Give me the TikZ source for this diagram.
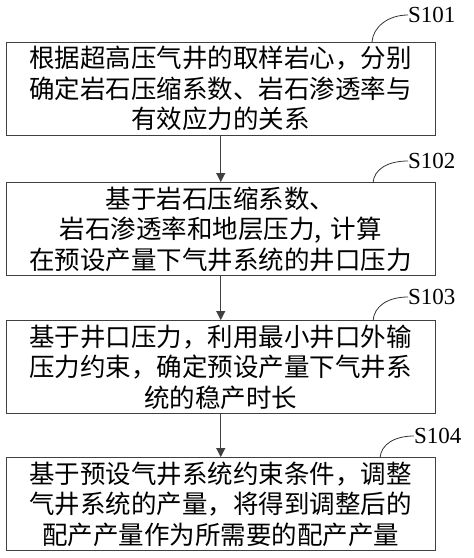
\documentclass[tikz,border=0pt]{standalone}
\usepackage{fontspec}
\setmainfont{Liberation Serif}
\newfontfamily\cjk{Noto Sans CJK SC}
\usetikzlibrary{arrows.meta}
\tikzset{
  stepbox/.style={draw=black!75, line width=0.9pt, minimum width=429pt, minimum height=93pt,
    text width=420pt, align=center, inner sep=0pt,
    font=\cjk\fontsize{25.5}{30.5}\selectfont},
  steplabel/.style={anchor=west, inner sep=0pt, font=\fontsize{23}{26}\selectfont},
  hook/.style={draw=black!80, line width=0.8pt},
  flow/.style={draw=black!75, line width=0.9pt, -{Triangle[length=9pt,width=9pt]}}
}
\begin{document}
\begin{tikzpicture}[x=1pt,y=-1pt]
\useasboundingbox (0,0) rectangle (474,558);
\node[stepbox] (b1) at (220.75,88.5) {根据超高压气井的取样岩心，分别\\确定岩石压缩系数、岩石渗透率与\\有效应力的关系};
\node[stepbox] (b2) at (220.75,229) {基于岩石压缩系数、\\岩石渗透率和地层压力, 计算\\在预设产量下气井系统的井口压力};
\node[stepbox] (b3) at (220.75,367) {基于井口压力，利用最小井口外输\\压力约束，确定预设产量下气井系\\统的稳产时长};
\node[stepbox] (b4) at (220.75,504) {基于预设气井系统约束条件，调整\\气井系统的产量，将得到调整后的\\配产产量作为所需要的配产产量};
\draw[flow] (b1) -- (b2);
\draw[flow] (b2) -- (b3);
\draw[flow] (b3) -- (b4);
\node[steplabel] (l1) at (408,15) {S101};
\node[steplabel] (l2) at (408,161) {S102};
\node[steplabel] (l3) at (408,297) {S103};
\node[steplabel] (l4) at (414,436) {S104};
\coordinate (h1) at (372,42);
\coordinate (h2) at (373,183);
\coordinate (h3) at (373,321);
\coordinate (h4) at (380,458);
\draw[hook] (h1) .. controls (373,27) and (388,15) .. (l1.west);
\draw[hook] (h2) .. controls (374,169) and (388,161) .. (l2.west);
\draw[hook] (h3) .. controls (374,306) and (388,297) .. (l3.west);
\draw[hook] (h4) .. controls (381,444) and (395,436) .. (l4.west);
\end{tikzpicture}
\end{document}
